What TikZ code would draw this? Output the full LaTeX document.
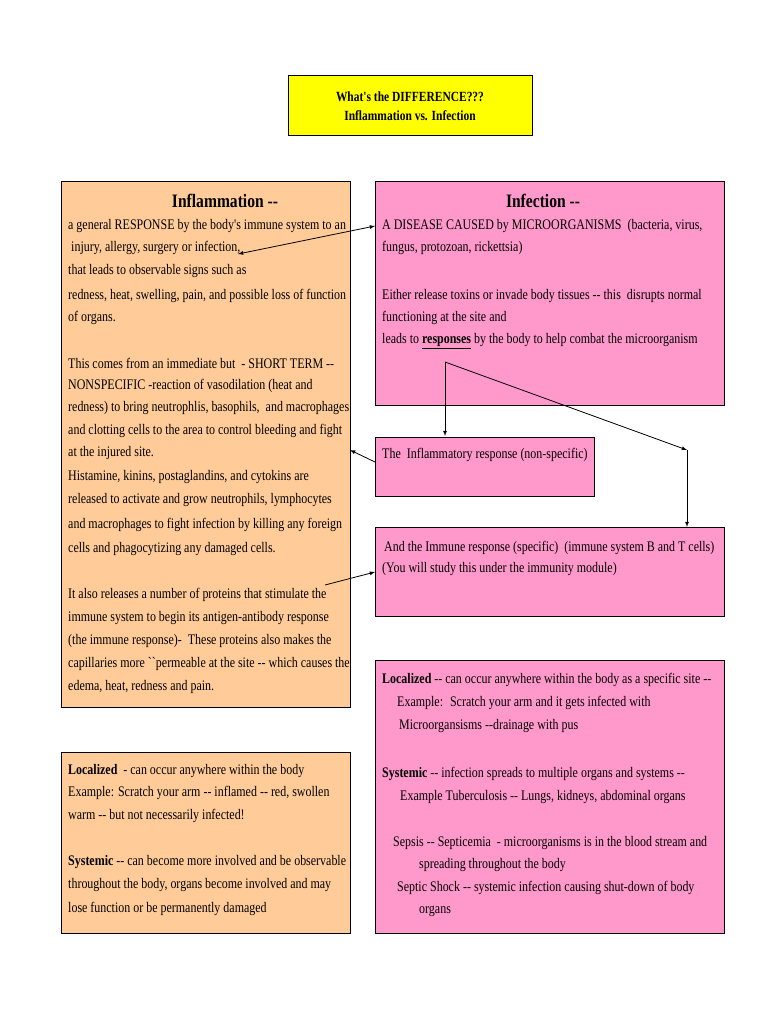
\documentclass[tikz,border=0pt]{standalone}
\usepackage{fontspec}
\newfontfamily\tnr[FakeStretch=0.82]{Liberation Serif}
\definecolor{peach}{HTML}{FFCC99}
\definecolor{pinkb}{HTML}{FF99CC}
\definecolor{yel}{HTML}{FFFF00}
\begin{document}
\begin{tikzpicture}[x=1pt,y=-1pt,
  box/.style={draw=black,line width=0.8pt},
  t/.style={anchor=west,inner sep=0pt,font=\tnr\fontsize{14.6}{16}\selectfont},
  hd/.style={anchor=center,inner sep=0pt,font=\tnr\bfseries\fontsize{19}{21}\selectfont},
  arr/.style={-latex,line width=0.8pt}]
\useasboundingbox (0,0) rectangle (768,1024);
\fill[white] (0,0) rectangle (768,1024);
% boxes
\draw[box,fill=yel] (288,75) rectangle (532,135);
\node[inner sep=0,font=\tnr\bfseries\fontsize{14}{16}\selectfont,align=center] (title) at (410,106) {What's the DIFFERENCE???\\[3pt]Inflammation vs. Infection};
\draw[box,fill=peach] (61,181) rectangle (350,707);
\coordinate (infl) at (350,450);
\draw[box,fill=pinkb] (375,181) rectangle (724,405);
\draw[box,fill=pinkb] (375,437) rectangle (594,496);
\draw[box,fill=pinkb] (375,527) rectangle (724,616);
\draw[box,fill=peach] (61,752) rectangle (350,933);
\draw[box,fill=pinkb] (375,660) rectangle (724,933);
% Inflammation text
\node[hd] (h1) at (225,201) {Inflammation --};
\node[t] at (68,226) {a general RESPONSE by the body's immune system to an};
\node[t] (inj) at (68,248) {\ injury, allergy, surgery or infection,};
\node[t] at (68,271) {that leads to observable signs such as};
\node[t] at (68,296) {redness, heat, swelling, pain, and possible loss of function};
\node[t] at (68,318) {of organs.};
\node[t] at (68,363) {This comes from an immediate but \ - SHORT TERM --};
\node[t] at (68,386) {NONSPECIFIC -reaction of vasodilation (heat and};
\node[t] at (68,408) {redness) to bring neutrophlis, basophils, \ and macrophages};
\node[t] at (68,431) {and clotting cells to the area to control bleeding and fight};
\node[t] at (68,453) {at the injured site.};
\node[t] at (68,477) {Histamine, kinins, postaglandins, and cytokins are};
\node[t] at (68,500) {released to activate and grow neutrophils, lymphocytes};
\node[t] at (68,525) {and macrophages to fight infection by killing any foreign};
\node[t] at (68,549) {cells and phagocytizing any damaged cells.};
\node[t] (prot) at (68,595) {It also releases a number of proteins that stimulate the};
\node[t] at (68,618) {immune system to begin its antigen-antibody response};
\node[t] at (68,641) {(the immune response)- \ These proteins also makes the};
\node[t] at (68,664) {capillaries more ``permeable at the site -- which causes the};
\node[t] at (68,687) {edema, heat, redness and pain.};
% Infection text
\node[hd] (h2) at (543,201) {Infection --};
\node[t] at (382,226) {A DISEASE CAUSED by MICROORGANISMS \ (bacteria, virus,};
\node[t] at (382,248) {fungus, protozoan, rickettsia)};
\node[t] at (382,296) {Either release toxins or invade body tissues -- this \ disrupts normal};
\node[t] at (382,318) {functioning at the site and};
\node[t] at (382,341) {leads to \underline{\textbf{responses}} by the body to help combat the microorganism};
\node[t] (ir) at (382,455) {The \ Inflammatory response (non-specific)};
\node[t] (im) at (384,548) {And the Immune response (specific) \ (immune system B and T cells)};
\node[t] at (382,569) {(You will study this under the immunity module)};
% Localized right
\node[t] at (382,680) {\textbf{Localized} -- can occur anywhere within the body as a specific site --};
\node[t] at (397,703) {Example: \ Scratch your arm and it gets infected with};
\node[t] at (399,726) {Microorgansisms --drainage with pus};
\node[t] at (382,774) {\textbf{Systemic} -- infection spreads to multiple organs and systems --};
\node[t] at (400,797) {Example Tuberculosis -- Lungs, kidneys, abdominal organs};
\node[t] at (393,843) {Sepsis -- Septicemia \ - microorganisms is in the blood stream and};
\node[t] at (419,865) {spreading throughout the body};
\node[t] at (397,888) {Septic Shock -- systemic infection causing shut-down of body};
\node[t] at (419,911) {organs};
% Localized left
\node[t] at (68,771) {\textbf{Localized} \ - can occur anywhere within the body};
\node[t] at (68,793) {Example: Scratch your arm -- inflamed -- red, swollen};
\node[t] at (68,816) {warm -- but not necessarily infected!};
\node[t] at (68,862) {\textbf{Systemic} -- can become more involved and be observable};
\node[t] at (68,885) {throughout the body, organs become involved and may};
\node[t] at (68,909) {lose function or be permanently damaged};
% connectors
\coordinate (a1) at (238,254);
\coordinate (a2) at (375,226);
\draw[latex-latex,line width=0.8pt] (a1) -- (a2);
\coordinate (r0) at (445,362);
\coordinate (r1) at (445,436);
\coordinate (r2) at (687,450);
\coordinate (r3) at (687,527);
\draw[arr] (r0) -- (r1);
\draw[-latex,line width=0.8pt] (r0) -- (r2);
\draw[arr] (r2) -- (r3);
\coordinate (b0) at (375,462);
\draw[arr] (b0) -- (infl);
\coordinate (c0) at (325,585);
\coordinate (c1) at (375,572);
\draw[arr] (c0) -- (c1);
\end{tikzpicture}
\end{document}
